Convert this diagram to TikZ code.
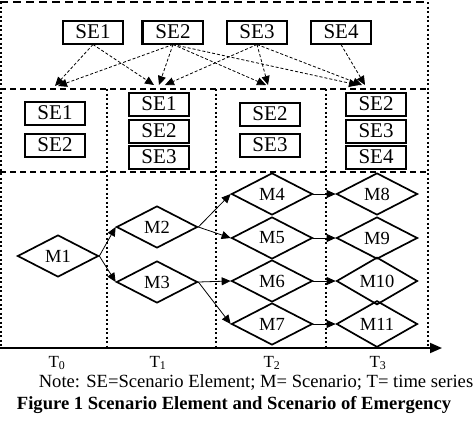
\documentclass[tikz,border=0pt]{standalone}
\usepackage{fontspec}
\setmainfont{Liberation Serif}
\usepackage{tikz}
\usetikzlibrary{shapes.geometric,arrows.meta,positioning,calc}

\begin{document}
\begin{tikzpicture}[
    x=1pt, y=-1pt,
    sebox/.style={rectangle, draw, line width=2pt, minimum width=60pt, minimum height=23pt, inner sep=0pt, font=\fontsize{21}{21}\selectfont},
    scen/.style={diamond, draw, line width=1.7pt, minimum width=81pt, minimum height=42pt, inner sep=0pt, font=\fontsize{18.5}{18.5}\selectfont},
    elearrow/.style={dashed, dash pattern=on 3pt off 2pt, line width=0.8pt, -{Triangle[length=9pt,width=8pt]}},
    scenarrow/.style={line width=0.8pt, -{Triangle[length=9pt,width=8pt]}},
    bigdash/.style={line width=2.2pt, dash pattern=on 8pt off 5pt},
    middash/.style={line width=1.5pt, dash pattern=on 6pt off 4pt},
    sep/.style={line width=1.8pt, dash pattern=on 2pt off 2.5pt},
    tlabel/.style={anchor=base, inner sep=0pt, font=\fontsize{17}{17}\selectfont},
    textline/.style={anchor=base, inner sep=0pt, font=\fontsize{18.6}{18.6}\selectfont},
]
\useasboundingbox (0,0) rectangle (474,432);

% === FRAME ===
\draw[bigdash] (0,2) -- (428,2);
\draw[middash] (0,89) -- (428,89);
\draw[middash] (0,172) -- (428,172);
\draw[sep] (1,2) -- (1,348);
\draw[line width=1.2pt, dash pattern=on 2pt off 2.5pt] (428,2) -- (428,348);
\foreach \x in {107,216,326}
  \draw[sep] (\x,89) -- (\x,348);

% === SCENARIO ELEMENTS (TOP) ===
\node[sebox] (se1) at (93,32) {SE1};
\node[sebox] (se2) at (173,32) {SE2};
\node[sebox] (se3) at (257,32) {SE3};
\node[sebox] (se4) at (341,32) {SE4};
\draw[line width=1.2pt] (142,20) -- (142,45);

% === SCENARIO ELEMENTS PER TIME ===
\node[sebox] (a1) at (55,113) {SE1};
\node[sebox] (a2) at (55,145) {SE2};

\node[sebox] (b1) at (159,104) {SE1};
\node[sebox] (b2) at (159,131) {SE2};
\node[sebox] (b3) at (159,157) {SE3};

\node[sebox] (c2) at (270,114) {SE2};
\node[sebox] (c3) at (270,145) {SE3};

\node[sebox] (d2) at (376,104) {SE2};
\node[sebox] (d3) at (376,131) {SE3};
\node[sebox] (d4) at (376,157) {SE4};

% drop points on the dashed line
\coordinate (p0) at (57,86);
\coordinate (p1) at (160,85);
\coordinate (p2) at (268,85);
\coordinate (p3) at (362,85);

% === SCENARIOS ===
\node[scen] (m1) at (58,256) {M1};
\node[scen] (m2) at (157,227) {M2};
\node[scen] (m3) at (157,282) {M3};
\node[scen] (m4) at (272,194) {M4};
\node[scen] (m5) at (272,238) {M5};
\node[scen] (m6) at (272,281) {M6};
\node[scen] (m7) at (272,324) {M7};
\node[scen] (m8) at (377,194) {M8};
\node[scen] (m9) at (377,238) {M9};
\node[scen] (m10) at (377,281) {M10};
\node[scen] (m11) at (377,324) {M11};

% === ARROWS ===
\draw[elearrow] (se1.south) -- ([xshift=-2pt]p0);
\draw[elearrow] (se1.south) -- ([xshift=-6pt]p1);
\draw[elearrow] (se2.south) -- ([xshift=1pt]p0);
\draw[elearrow] (se2.south) -- ([xshift=-1pt]p1);
\draw[elearrow] (se2.south) -- ([xshift=-2pt]p2);
\draw[elearrow] (se2.south) -- ([xshift=-4pt]p3);
\draw[elearrow] (se3.south) -- ([xshift=5pt]p1);
\draw[elearrow] (se3.south) -- (p2);
\draw[elearrow] (se3.south) -- (p3);
\draw[elearrow] (se4.south) -- ([xshift=3pt]p3);

\draw[scenarrow] (m1.east) -- (m2.west);
\draw[scenarrow] (m1.east) -- (m3.west);
\draw[scenarrow] (m2.east) -- (m4.west);
\draw[scenarrow] (m2.east) -- (m5.west);
\draw[scenarrow] (m3.east) -- (m6.west);
\draw[scenarrow] (m3.east) -- (m7.west);
\draw[scenarrow] (m4.east) -- (m8.west);
\draw[scenarrow] (m5.east) -- (m9.west);
\draw[scenarrow] (m6.east) -- (m10.west);
\draw[scenarrow] (m7.east) -- (m11.west);

% === TIME AXIS ===
\coordinate (ax0) at (0,348);
\coordinate (ax1) at (442,348);
\draw[line width=1.8pt, -{Triangle[length=12pt,width=10pt]}] (ax0) -- (ax1);
\node[tlabel] (t0) at (57,367) {T\textsubscript{0}};
\node[tlabel] (t1) at (158,367) {T\textsubscript{1}};
\node[tlabel] (t2) at (272,367) {T\textsubscript{2}};
\node[tlabel] (t3) at (378,367) {T\textsubscript{3}};

% === NOTE AND CAPTION ===
\node[textline] (note) at (256,387) {Note: SE=Scenario Element; M= Scenario; T= time series};
\node[textline, font=\fontsize{18.6}{18.6}\selectfont\bfseries] (caption) at (234,409) {Figure 1 Scenario Element and Scenario of Emergency};

\end{tikzpicture}
\end{document}
